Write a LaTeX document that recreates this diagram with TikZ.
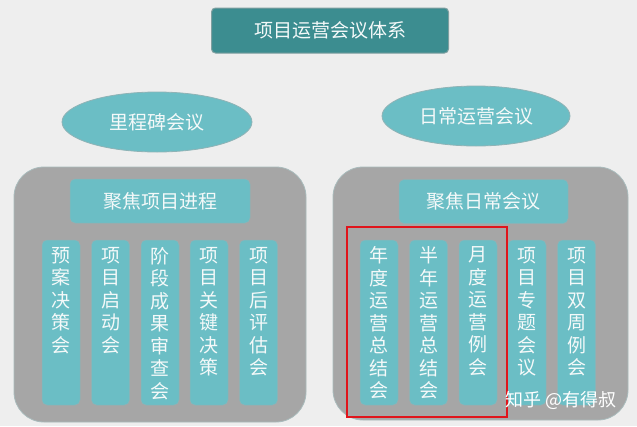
\documentclass[tikz,border=0pt]{standalone}
\usepackage{fontspec}
\setmainfont{Noto Sans CJK SC}
\usetikzlibrary{shapes.geometric}
\definecolor{bg}{HTML}{EEEEEE}
\definecolor{titlefill}{HTML}{3C8D90}
\definecolor{titledraw}{HTML}{7F9FA0}
\definecolor{teal}{HTML}{6BBEC5}
\definecolor{tealdraw}{HTML}{8FB3B6}
\definecolor{greybox}{HTML}{A6A6A6}
\definecolor{greydraw}{HTML}{A9BBBC}
\definecolor{txt}{HTML}{F4F9F9}
\definecolor{redline}{HTML}{E0141B}
\begin{document}
\begin{tikzpicture}[x=1pt,y=-1pt,
  cjk/.style={font=\fontsize{19pt}{22.5pt}\selectfont, text=txt},
  titlebox/.style={draw=titledraw, line width=1pt, fill=titlefill, rounded corners=4pt, minimum width=237pt, minimum height=45pt, cjk},
  ellnode/.style={ellipse, draw=tealdraw, line width=0.8pt, fill=teal, cjk},
  bigbox/.style={draw=greydraw, line width=0.8pt, fill=greybox, rounded corners=30pt},
  headbox/.style={fill=teal, draw=tealdraw, line width=0.5pt, rounded corners=5pt, minimum height=44pt, cjk},
  colbox/.style={fill=teal, draw=tealdraw, line width=0.5pt, rounded corners=5pt, minimum width=38pt, minimum height=165pt},
  coltext/.style={cjk, anchor=north, align=center, inner sep=0pt},
  redbox/.style={draw=redline, line width=2pt}
]
\fill[bg] (0,0) rectangle (637,426);
\useasboundingbox (0,0) rectangle (637,426);

\node[titlebox] (title) at (330,30.5) {项目运营会议体系};

\node[ellnode, minimum width=190pt, minimum height=60pt] (ms) at (157,122) {里程碑会议};
\node[ellnode, minimum width=188pt, minimum height=60pt] (daily) at (476,116) {日常运营会议};

\node[bigbox, minimum width=292pt, minimum height=255pt] (lbig) at (160,294.5) {};
\node[bigbox, minimum width=295pt, minimum height=253pt] (rbig) at (480.5,293.5) {};

\node[headbox, minimum width=180pt] (lhead) at (160,201) {聚焦项目进程};
\node[headbox, minimum width=169pt] (rhead) at (483.5,201.5) {聚焦日常会议};

% left columns
\node[colbox] (l1) at (61,322.5) {};
\node[colbox] (l2) at (110.5,322.5) {};
\node[colbox] (l3) at (160,322.5) {};
\node[colbox] (l4) at (209,322.5) {};
\node[colbox] (l5) at (258.5,322.5) {};
\node[coltext] (t1) at ([yshift=-7pt]l1.north) {预\\案\\决\\策\\会};
\node[coltext] (t2) at ([yshift=-7pt]l2.north) {项\\目\\启\\动\\会};
\node[coltext] (t3) at ([yshift=-7pt]l3.north) {阶\\段\\成\\果\\审\\查\\会};
\node[coltext] (t4) at ([yshift=-7pt]l4.north) {项\\目\\关\\键\\决\\策};
\node[coltext] (t5) at ([yshift=-7pt]l5.north) {项\\目\\后\\评\\估\\会};

% right columns
\node[colbox] (r1) at (379,322.5) {};
\node[colbox] (r2) at (428.5,322.5) {};
\node[colbox] (r3) at (478,322.5) {};
\node[colbox] (r4) at (527,322.5) {};
\node[colbox] (r5) at (576.5,322.5) {};
\node[coltext] (u1) at ([yshift=-7pt]r1.north) {年\\度\\运\\营\\总\\结\\会};
\node[coltext] (u2) at ([yshift=-7pt]r2.north) {半\\年\\运\\营\\总\\结\\会};
\node[coltext] (u3) at ([yshift=-7pt]r3.north) {月\\度\\运\\营\\例\\会};
\node[coltext] (u4) at ([yshift=-7pt]r4.north) {项\\目\\专\\题\\会\\议};
\node[coltext] (u5) at ([yshift=-7pt]r5.north) {项\\目\\双\\周\\例\\会};

\draw[redbox] (347,227) rectangle (507,417);

\node[font=\fontsize{18pt}{20pt}\selectfont, text=white] (wm) at (561,400) {知乎 @有得叔};
\end{tikzpicture}
\end{document}
